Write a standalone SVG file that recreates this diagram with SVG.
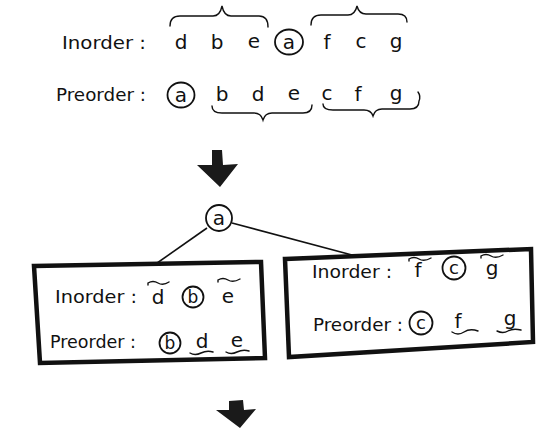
<svg xmlns="http://www.w3.org/2000/svg" width="559" height="439" viewBox="0 0 559 439">
<style>
text{font-family:"DejaVu Sans","Liberation Sans",sans-serif;fill:#111;font-size:17px}
.l{text-anchor:middle;font-size:20px}
.c{fill:none;stroke:#111;stroke-width:1.8}
.br{fill:none;stroke:#111;stroke-width:1.4;stroke-linecap:round}
.box{fill:#fff;stroke:#111;stroke-width:4.5;stroke-linejoin:miter}
.ln{stroke:#111;stroke-width:1.6;fill:none}
.ar{fill:#1a1a1a}
</style>
<rect width="559" height="439" fill="#fff"/>
<g id="top-inorder">
<text x="62" y="49" textLength="84" lengthAdjust="spacingAndGlyphs">Inorder :</text>
<text class="l" x="181" y="49">d</text>
<text class="l" x="217" y="49">b</text>
<text class="l" x="254" y="48">e</text>
<ellipse class="c" cx="289" cy="42" rx="14" ry="12.5"/>
<text class="l" x="289" y="49">a</text>
<text class="l" x="327" y="49">f</text>
<text class="l" x="361" y="48">c</text>
<text class="l" x="396" y="48">g</text>
<path class="br" d="M170,26 Q170,16 180,16 L213,16 Q220,16 222,6 Q224,16 231,16 L259,16 Q268,16 268,27"/>
<path class="br" d="M311,25 Q311,15 321,15 L348,15 Q355,15 357,6 Q359,14 366,14 L398,14 Q407,14 407,22"/>
</g>
<g id="top-preorder">
<text x="56" y="101" textLength="90" lengthAdjust="spacingAndGlyphs">Preorder :</text>
<ellipse class="c" cx="181" cy="95" rx="13.5" ry="12.5"/>
<text class="l" x="181" y="102">a</text>
<text class="l" x="222" y="101">b</text>
<text class="l" x="258" y="101">d</text>
<text class="l" x="294" y="100">e</text>
<text class="l" x="327" y="100">c</text>
<text class="l" x="358" y="101">f</text>
<text class="l" x="396" y="100">g</text>
<path class="br" d="M212,106 Q212,113 222,113 L254,113 Q261,113 263,120 Q265,113 272,113 L303,113 Q312,113 312,105"/>
<path class="br" d="M323,104 Q323,110 333,110 L364,110 Q371,110 373,116 Q375,109 382,109 L410,109 Q419,109 419,101 M418,92 Q421,96 419,101"/>
</g>
<g id="arrow1">
<path class="ar" d="M212,150 L222,150 L223,165 L238,164 L220,187 L197,165 L212,165 Z"/>
</g>
<g id="connectors">
<path class="ln" d="M207,228 L150,268"/>
<path class="ln" d="M232,223 L352,255"/>
</g>
<g id="root-a">
<circle class="c" cx="219" cy="218" r="13" fill="#fff"/>
<text class="l" x="219" y="225">a</text>
</g>
<g id="left-box">
<path class="box" d="M34,266 L261,262 L265,358 L40,363 Z"/>
<text x="55" y="303" textLength="82" lengthAdjust="spacingAndGlyphs">Inorder :</text>
<text class="l" x="158" y="304">d</text>
<circle class="c" cx="193" cy="297" r="10.5"/>
<text class="l" x="193" y="303" style="font-size:17px">b</text>
<text class="l" x="228" y="303">e</text>
<path class="br" d="M148,285 L148,283 Q153,280 158,283 T169,282"/>
<path class="br" d="M218,282 L218,280 Q223,277 228,280 T240,279"/>
<text x="50" y="348" textLength="86" lengthAdjust="spacingAndGlyphs">Preorder :</text>
<circle class="c" cx="170" cy="343" r="10.5"/>
<text class="l" x="170" y="349" style="font-size:17px">b</text>
<text class="l" x="202" y="348">d</text>
<text class="l" x="237" y="347">e</text>
<path class="br" d="M190,353 Q195,356 201,353 T213,352"/>
<path class="br" d="M226,352 Q231,355 237,352 T249,351"/>
</g>
<g id="right-box">
<path class="box" d="M285,259 L531,249 L533,342 L289,357 Z"/>
<text x="312" y="278" textLength="80" lengthAdjust="spacingAndGlyphs">Inorder :</text>
<text class="l" x="418" y="277">f</text>
<circle class="c" cx="454" cy="268" r="11.5"/>
<text class="l" x="454" y="274" style="font-size:18px">c</text>
<text class="l" x="492" y="275">g</text>
<path class="br" d="M409,261 L409,259 Q414,256 419,259 T431,258"/>
<path class="br" d="M481,258 L481,256 Q486,253 491,256 T503,255"/>
<text x="313" y="331" textLength="90" lengthAdjust="spacingAndGlyphs">Preorder :</text>
<circle class="c" cx="421" cy="323" r="11.5"/>
<text class="l" x="421" y="329" style="font-size:18px">c</text>
<text class="l" x="458" y="328">f</text>
<text class="l" x="510" y="325">g</text>
<path class="br" d="M452,332 Q458,336 464,332 T478,331"/>
<path class="br" d="M497,331 Q503,334 508,331 T521,330"/>
</g>
<g id="arrow2">
<path class="ar" d="M229,401 L243,400 L244,410 L256,409 L240,428 L216,410 L229,410 Z"/>
</g>
</svg>
